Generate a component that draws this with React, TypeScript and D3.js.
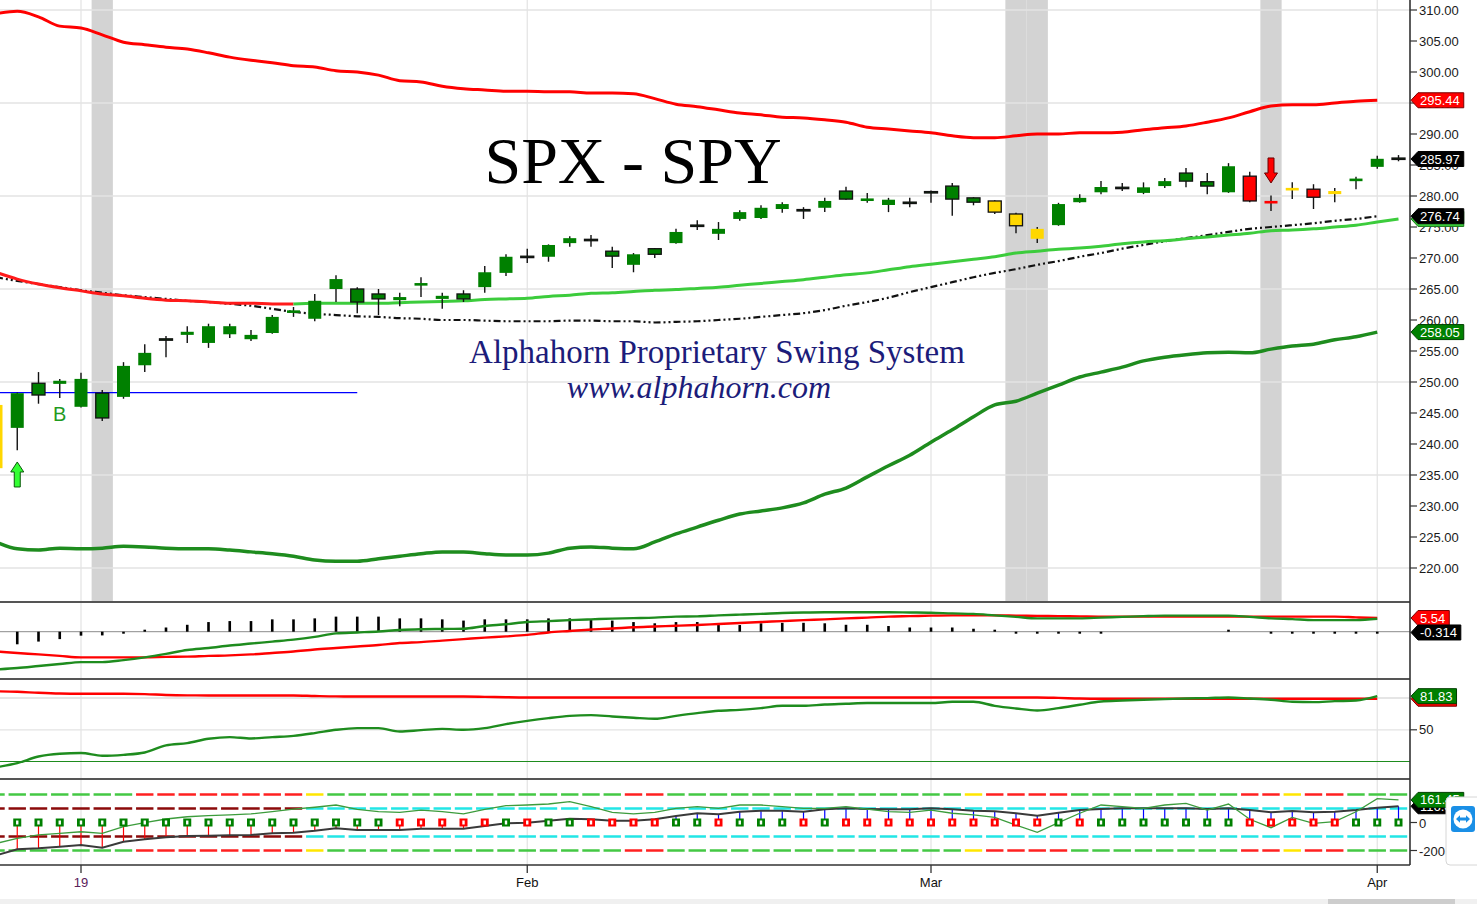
import React from 'react';
import * as d3 from 'd3';

// trading days on the chart (Dec 26 2018 .. Apr 2 2019)
const dates = [
  '2018-12-26', '2018-12-27', '2018-12-28', '2018-12-31',
  '2019-01-02', '2019-01-03', '2019-01-04', '2019-01-07', '2019-01-08', '2019-01-09', '2019-01-10',
  '2019-01-11', '2019-01-14', '2019-01-15', '2019-01-16', '2019-01-17', '2019-01-18', '2019-01-22',
  '2019-01-23', '2019-01-24', '2019-01-25', '2019-01-28', '2019-01-29', '2019-01-30', '2019-01-31',
  '2019-02-01', '2019-02-04', '2019-02-05', '2019-02-06', '2019-02-07', '2019-02-08', '2019-02-11',
  '2019-02-12', '2019-02-13', '2019-02-14', '2019-02-15', '2019-02-19', '2019-02-20', '2019-02-21',
  '2019-02-22', '2019-02-25', '2019-02-26', '2019-02-27', '2019-02-28',
  '2019-03-01', '2019-03-04', '2019-03-05', '2019-03-06', '2019-03-07', '2019-03-08', '2019-03-11',
  '2019-03-12', '2019-03-13', '2019-03-14', '2019-03-15', '2019-03-18', '2019-03-19', '2019-03-20',
  '2019-03-21', '2019-03-22', '2019-03-25', '2019-03-26', '2019-03-27', '2019-03-28', '2019-03-29',
  '2019-04-01', '2019-04-02',
];

const opens = [
  236.1, 242.6, 249.8, 249.7,
  246.0, 248.2, 247.6, 252.7, 256.9, 257.6, 256.3, 257.7, 256.9, 257.9, 261.2, 260.2, 265.0, 265.0, 264.2, 263.2, 265.7, 263.4, 264.2, 265.3, 267.6,
  270.25, 270.2, 272.4, 272.95, 271.1, 268.9, 271.5, 272.4, 275.25, 273.9, 276.3, 276.45, 277.9, 277.75, 278.1, 280.8, 279.35, 278.55, 278.95,
  280.65, 281.6, 279.7, 279.2, 277.1, 273.1, 275.3, 279.0, 280.6, 281.35, 280.5, 281.6, 283.7, 282.3, 280.6, 283.2, 278.95, 281.05, 281.1, 280.3, 282.55,
  284.7, 286.05,
];
const highs = [
  246.4, 248.3, 251.6, 250.5,
  251.5, 248.7, 253.2, 256.1, 257.4, 259.0, 259.4, 259.4, 258.4, 260.8, 262.1, 264.2, 267.2, 265.3, 265.0, 264.4, 266.9, 264.4, 264.8, 268.7, 270.6,
  271.5, 272.2, 273.5, 273.7, 271.8, 270.8, 271.6, 274.7, 276.1, 275.8, 277.7, 278.5, 279.0, 278.2, 279.7, 281.5, 280.5, 279.7, 279.7,
  280.9, 282.1, 279.8, 279.3, 277.3, 275.0, 278.9, 280.3, 282.4, 282.1, 282.2, 282.9, 284.5, 283.7, 285.3, 283.9, 280.1, 282.2, 281.9, 281.3, 283.1,
  286.5, 286.6,
];
const lows = [
  235.8, 239.0, 246.5, 247.4,
  245.9, 243.7, 247.3, 251.6, 254.0, 256.3, 255.5, 257.1, 256.6, 257.8, 260.5, 259.8, 262.9, 261.1, 260.8, 262.2, 263.7, 261.8, 262.9, 264.4, 267.1,
  269.2, 269.4, 271.8, 271.8, 268.4, 267.7, 270.0, 272.3, 274.5, 272.9, 276.0, 276.3, 277.3, 276.3, 277.4, 279.4, 278.9, 277.4, 278.2,
  278.9, 276.8, 278.5, 277.1, 274.0, 272.4, 275.2, 278.9, 280.3, 280.8, 280.3, 281.3, 281.4, 280.3, 280.5, 279.0, 277.6, 279.5, 277.9, 279.0, 281.1,
  284.4, 285.6,
];
const closes = [
  246.3, 248.2, 247.9, 250.2,
  250.5, 244.2, 252.6, 254.7, 256.8, 258.1, 259.0, 259.0, 257.6, 260.5, 261.5, 263.1, 266.6, 262.9, 263.4, 263.7, 265.8, 263.9, 263.4, 267.7, 270.2,
  270.1, 272.1, 273.2, 272.85, 270.3, 270.6, 270.6, 274.2, 275.15, 274.7, 277.4, 278.1, 278.7, 277.65, 279.2, 279.5, 279.45, 279.4, 278.85,
  280.55, 279.5, 279.0, 277.4, 275.2, 274.7, 278.7, 279.7, 281.45, 281.25, 281.4, 282.4, 282.4, 281.6, 284.8, 279.2, 279.05, 281.15, 279.8, 280.8, 282.65,
  286.0, 285.97,
];

// system colour of the candles (default green)
const candleColorOverrides: [string, string][] = [
  ['2018-12-26', 'y'], ['2019-03-06', 'y'], ['2019-03-07', 'y'], ['2019-03-08', 'y'],
  ['2019-03-22', 'r'], ['2019-03-25', 'r'], ['2019-03-26', 'y'], ['2019-03-27', 'r'], ['2019-03-28', 'y'],
];

// envelope bands (to Apr 1)
const upperBand = [
  309.4, 309.8, 308.9, 307.4, 307.1, 306.0, 304.8, 304.4, 304.0, 303.7, 303.1, 302.4, 301.9, 301.5, 301.0, 300.8,
  300.2, 300.0, 299.5, 298.6, 298.4, 297.7, 297.3, 297.1, 296.9, 296.9, 296.8, 296.8, 296.6, 296.6, 296.5, 295.7,
  294.8, 294.4, 293.9, 293.4, 293.1, 292.7, 292.6, 292.3, 291.9, 291.1, 290.8, 290.5, 290.2, 289.7, 289.4, 289.4,
  289.7, 290.0, 290.0, 290.2, 290.2, 290.3, 290.7, 291.0, 291.3, 291.9, 292.6, 293.6, 294.5, 294.7, 294.7, 295.0,
  295.3, 295.44,
];
const lowerBand = [
  224.2, 223.1, 222.9, 223.2, 223.1, 223.2, 223.5, 223.4, 223.2, 223.1, 223.1, 222.9, 222.6, 222.3, 221.9, 221.3,
  221.1, 221.1, 221.5, 221.9, 222.3, 222.6, 222.6, 222.3, 222.1, 222.1, 222.4, 223.2, 223.4, 223.2, 223.1, 224.2,
  225.5, 226.6, 227.7, 228.7, 229.2, 229.7, 230.5, 231.9, 232.9, 234.7, 236.5, 238.2, 240.3, 242.3, 244.4, 246.3,
  246.9, 248.2, 249.5, 250.8, 251.6, 252.4, 253.4, 254.0, 254.4, 254.7, 254.8, 254.7, 255.3, 255.8, 256.1, 256.8,
  257.3, 258.05,
];
// trend average (red before the turn, green after)
const trendMA = [
  267.7, 266.6, 265.8, 265.2, 264.7, 264.2, 263.9, 263.5, 263.2, 263.1, 262.9, 262.7, 262.7, 262.6, 262.6, 262.7,
  262.7, 262.7, 262.7, 262.8, 262.9, 263.0, 263.1, 263.3, 263.4, 263.5, 263.8, 264.0, 264.3, 264.4, 264.6, 264.8,
  264.9, 265.1, 265.3, 265.6, 265.9, 266.2, 266.5, 266.9, 267.3, 267.6, 268.1, 268.6, 269.0, 269.4, 269.8, 270.2,
  270.8, 271.1, 271.4, 271.6, 271.9, 272.3, 272.6, 272.8, 273.1, 273.4, 273.7, 274.0, 274.4, 274.5, 274.7, 275.0,
  275.3, 275.8, 276.3,
];
const maTurnDate = '2019-01-16';
// slow dash-dot average (to Apr 1)
const slowMA = [
  266.9, 266.3, 265.8, 265.3, 264.8, 264.4, 264.0, 263.7, 263.4, 263.1, 262.9, 262.6, 262.3, 261.8, 261.3, 261.0,
  260.8, 260.6, 260.5, 260.3, 260.2, 260.0, 260.0, 259.9, 259.8, 259.8, 259.8, 259.9, 259.9, 259.8, 259.8, 259.6,
  259.7, 259.8, 260.0, 260.2, 260.5, 260.8, 261.1, 261.6, 262.3, 262.9, 263.6, 264.5, 265.3, 266.1, 266.9, 267.6,
  268.2, 268.9, 269.5, 270.2, 270.8, 271.5, 272.1, 272.7, 273.2, 273.7, 274.2, 274.7, 275.0, 275.3, 275.6, 276.0,
  276.3, 276.74,
];

const supportLevel = 248.3;
const supportEnd = '2019-01-22';
const shadedDays = ['2019-01-03', '2019-03-07', '2019-03-08', '2019-03-25'];
const buySignal = { date: '2018-12-27', price: 237.1 };
const sellSignal = { date: '2019-03-25', price: 282.1 };
const letterMark = { date: '2018-12-31', price: 244.8, text: 'B' };

// MACD panel (to Apr 1)
const macdLine = [
  -15.3, -14.7, -13.9, -13.1, -12.3, -12.3, -11.5, -10.4, -9.0, -7.4, -6.6, -5.6, -4.8, -4.0, -3.2, -2.1,
  -0.7, -0.3, 0.1, 0.7, 1.0, 1.1, 1.2, 2.3, 3.0, 3.9, 4.3, 4.7, 5.0, 5.3, 5.5, 5.7,
  6.1, 6.2, 6.6, 6.9, 7.2, 7.6, 7.8, 7.9, 7.9, 7.9, 7.9, 7.8, 7.7, 7.4, 7.2, 6.6,
  6.0, 5.4, 5.4, 5.4, 5.7, 6.0, 6.3, 6.5, 6.5, 6.5, 6.5, 6.0, 5.4, 5.1, 4.7, 4.7,
  4.7, 5.23,
];
const macdSignal = [
  -8.0, -8.6, -9.2, -9.8, -10.4, -10.4, -10.4, -10.4, -10.2, -10.1, -9.8, -9.6, -9.2, -8.6, -8.0, -7.2,
  -6.6, -6.0, -5.4, -4.6, -4.2, -3.6, -3.0, -2.4, -1.9, -1.3, -0.3, 0.3, 0.9, 1.3, 1.8, 2.1,
  2.4, 2.7, 3.1, 3.5, 3.9, 4.3, 4.7, 5.0, 5.4, 5.7, 6.1, 6.3, 6.5, 6.6, 6.6, 6.6,
  6.5, 6.4, 6.3, 6.2, 6.1, 6.1, 6.1, 6.1, 6.1, 6.1, 6.1, 6.1, 6.1, 6.1, 6.1, 6.1,
  5.8, 5.54,
];
const macdHist = [
  -5.5, -5.1, -4.0, -3.0, -1.6, -1.5, -0.7, 0.4, 1.7, 2.8, 3.9, 4.3, 4.3, 5.0, 5.0, 5.4,
  6.1, 6.1, 6.1, 5.4, 5.4, 5.0, 4.5, 5.0, 5.0, 5.0, 5.4, 5.4, 5.0, 4.5, 3.9, 3.4,
  3.9, 3.9, 2.7, 2.7, 3.4, 3.6, 3.6, 3.4, 2.8, 2.8, 2.3, 1.7, 1.7, 1.7, 1.2, 0.7,
  -0.1, -0.5, -0.5, -0.3, -0.3, 0, 0, 0, 0, 0, 0.3, 0, -0.2, -0.2, -0.4, -0.4,
  -0.4, -0.314,
];

// oscillator panel (to Apr 1)
const oscFast = [
  14.5, 18.5, 24.7, 27.3, 28.0, 25.4, 26.3, 28.5, 35.2, 37.4, 41.5, 43.1, 41.8, 43.1, 44.3, 46.9,
  50.0, 51.6, 51.6, 48.4, 49.7, 50.9, 50.0, 51.6, 55.4, 58.5, 61.1, 63.2, 63.9, 62.6, 61.4, 60.4,
  63.2, 65.8, 68.0, 68.9, 70.5, 72.7, 72.7, 73.9, 74.6, 75.3, 75.3, 75.3, 75.3, 76.5, 76.5, 72.7,
  70.2, 68.3, 70.5, 73.7, 76.8, 77.7, 78.4, 79.0, 79.6, 80.0, 80.6, 79.6, 78.4, 76.5, 76.2, 77.1,
  77.7, 81.83,
];
const oscSlow = [
  86.4, 86.0, 85.0, 84.3, 84.1, 84.1, 84.1, 83.8, 83.0, 82.6, 82.5, 82.5, 82.5, 82.5, 82.5, 82.0,
  81.6, 81.5, 81.5, 81.5, 81.5, 81.5, 81.5, 81.2, 80.8, 80.6, 80.6, 80.6, 80.6, 80.6, 80.6, 80.6,
  80.6, 80.6, 80.6, 80.6, 80.6, 80.6, 80.6, 80.6, 80.6, 80.6, 80.6, 80.6, 80.6, 80.6, 80.6, 80.6,
  80.6, 80.6, 80.2, 79.6, 79.4, 79.4, 79.4, 79.4, 79.4, 79.4, 79.4, 79.4, 79.4, 79.4, 79.4, 79.4,
  79.4, 79.4,
];

// CCI panel (to Apr 2)
const cciFast = [
  -150, -113, -89, -77, -66, -77, -30, -1, 25, 41, 49, 54, 61, 77, 96, 109,
  125, 94, 77, 73, 89, 77, 61, 94, 120, 125, 132, 149, 113, 73, 61, 73,
  101, 113, 101, 125, 125, 113, 101, 101, 113, 96, 77, 73, 89, 66, 54, 37,
  -18, -70, -1, 66, 125, 113, 101, 125, 137, 89, 132, 23, -37, 37, -6, 6,
  77, 170, 161.45,
];
const cciSlow = [
  -235, -191, -184, -173, -161, -180, -137, -120, -106, -96, -94, -91, -89, -77, -73, -59,
  -41, -54, -54, -54, -44, -44, -44, -25, -6, -1, 13, 27, 23, 13, 13, 23,
  46, 66, 59, 77, 84, 84, 77, 94, 101, 96, 94, 94, 101, 94, 84, 80,
  66, 49, 70, 89, 96, 101, 101, 101, 101, 96, 101, 89, 73, 82, 73, 77,
  89, 106, 116,
];
const cciRedMarkers = [
  '2019-01-24', '2019-01-25', '2019-01-28', '2019-01-29', '2019-01-30', '2019-02-01',
  '2019-02-06', '2019-02-07', '2019-02-08', '2019-02-11', '2019-02-14', '2019-02-21',
  '2019-02-25', '2019-02-26', '2019-02-27', '2019-02-28', '2019-03-01', '2019-03-04', '2019-03-05',
  '2019-03-06', '2019-03-07', '2019-03-08', '2019-03-12',
  '2019-03-22', '2019-03-25', '2019-03-26', '2019-03-27', '2019-03-28',
];
const outerRedDays = [
  '2019-01-07', '2019-01-08', '2019-01-09', '2019-01-10', '2019-01-11', '2019-01-14', '2019-01-15', '2019-01-16',
  '2019-02-08', '2019-02-11', '2019-03-06', '2019-03-07', '2019-03-08', '2019-03-11',
  '2019-03-22', '2019-03-25', '2019-03-27', '2019-03-28',
];
const outerYellowDays = ['2019-01-17', '2019-03-05', '2019-03-26'];
const innerSwitchDate = '2019-01-17';

const priceTicks = [220, 225, 230, 235, 240, 245, 250, 255, 260, 265, 270, 275, 280, 285, 290, 295, 300, 305, 310];
const priceGrid = [220, 235, 250, 265, 280, 295, 310];
const oscTicks = [50];
const cciTicks = [0, -200];
const monthTicks = ['2019-01-02', '2019-02-01', '2019-03-01', '2019-04-01'];
const monthLabels = ['19', 'Feb', 'Mar', 'Apr'];
const monthColors = ['#5a205a', '#111', '#111', '#111'];

const FONT = '"Liberation Sans", Arial, sans-serif';
const SERIF = '"Liberation Serif", "Times New Roman", serif';
const W = 1477;
const H = 904;
const RIGHT = 1410;
const CANDLE = { g: '#008000', y: '#ffd700', r: '#ff0000' } as Record<string, string>;

function Tag({ y, text, fill, stroke, color = '#fff' }: { y: number; text: string; fill: string; stroke: string; color?: string }) {
  const w = text.split('').reduce((s, ch) => s + (ch === '.' ? 3.6 : ch === '-' ? 4.3 : 7.23), 0) + 6;
  const x0 = 1411;
  const h = 7.5;
  return (
    <g>
      <path d={`M${x0},${y} L${x0 + 7},${y - h} H${x0 + 7 + w} V${y + h} H${x0 + 7} Z`} fill={fill} stroke={stroke} strokeWidth={1} />
      <text x={x0 + 9} y={y + 4.6} fill={color} fontSize={13} fontFamily={FONT}>{text}</text>
    </g>
  );
}

export default function App() {
  const x = d3.scalePoint<string>().domain(dates).range([-4, 1398.5]);
  const step = x.step();
  const X = (d: string) => x(d) as number;

  const yMain = d3.scaleLinear().domain([220, 310]).range([568, 10]);
  const yMacd = d3.scaleLinear().domain([0, 10]).range([631.7, 607]);
  const yOsc = d3.scaleLinear().domain([20, 80]).range([761.5, 698.1]);
  const yCci = d3.scaleLinear().domain([-200, 200]).range([850.5, 794.5]);

  const path = (vals: number[], y: d3.ScaleLinear<number, number>, offset = 0, curve: d3.CurveFactory = d3.curveMonotoneX) =>
    d3.line<number>().x((_, i) => X(dates[i + offset])).y(v => y(v)).curve(curve)(vals) ?? '';

  const maSplit = dates.indexOf(maTurnDate);
  const innerSplit = dates.indexOf(innerSwitchDate);
  const colorOf = new Map(candleColorOverrides);

  const arrowUp = (cx: number, ty: number) =>
    `M${cx},${ty} L${cx + 6.5},${ty + 10} H${cx + 3} V${ty + 25} H${cx - 3} V${ty + 10} H${cx - 6.5} Z`;
  const arrowDown = (cx: number, ty: number) =>
    `M${cx},${ty} L${cx + 6.5},${ty - 10} H${cx + 3} V${ty - 25} H${cx - 3} V${ty - 10} H${cx - 6.5} Z`;

  const outerColor = (d: string) =>
    outerRedDays.includes(d) ? '#ff2020' : outerYellowDays.includes(d) ? '#ffe600' : '#44c844';

  const lastIdx = upperBand.length - 1;

  return (
    <div style={{ position: 'absolute', left: 0, top: 0, width: W, height: H, background: '#fff' }}>
      <svg width={W} height={H} style={{ display: 'block' }}>
        <defs>
          <clipPath id="cMain"><rect x={0} y={0} width={RIGHT} height={602} /></clipPath>
          <clipPath id="cMacd"><rect x={0} y={603} width={RIGHT} height={75} /></clipPath>
          <clipPath id="cOsc"><rect x={0} y={680} width={RIGHT} height={98} /></clipPath>
          <clipPath id="cCci"><rect x={0} y={780} width={RIGHT} height={85} /></clipPath>
        </defs>
        <rect x={0} y={0} width={W} height={H} fill="#fff" />

        {/* shaded days */}
        {shadedDays.map(d => (
          <rect key={d} x={X(d) - step / 2} y={0} width={step} height={602} fill="#d3d3d3" />
        ))}

        {/* grid */}
        {priceGrid.map(v => (
          <line key={v} x1={0} x2={RIGHT} y1={yMain(v)} y2={yMain(v)} stroke="#e3e3e3" strokeWidth={1.5} />
        ))}
        {monthTicks.map(d => (
          <line key={d} x1={X(d)} x2={X(d)} y1={0} y2={865} stroke="#e3e3e3" strokeWidth={1.2} />
        ))}
        <line x1={0} x2={RIGHT} y1={yOsc(80)} y2={yOsc(80)} stroke="#dcdcdc" strokeWidth={1.5} />
        <line x1={0} x2={RIGHT} y1={yOsc(50)} y2={yOsc(50)} stroke="#e3e3e3" strokeWidth={1.2} />

        {/* main panel */}
        <g clipPath="url(#cMain)">
          <path d={path(upperBand, yMain)} fill="none" stroke="#ff0000" strokeWidth={3} />
          <path d={path(lowerBand, yMain)} fill="none" stroke="#1e8c1e" strokeWidth={3.5} />
          <path d={path(slowMA, yMain)} fill="none" stroke="#111" strokeWidth={2.2} strokeDasharray="7 3 2 3 2 3" />
          <path d={path(trendMA.slice(0, maSplit + 1), yMain)} fill="none" stroke="#ff1a1a" strokeWidth={3} />
          <path d={path(trendMA.slice(maSplit), yMain, maSplit)} fill="none" stroke="#3ccc3c" strokeWidth={3} />
          <line x1={0} x2={X(supportEnd)} y1={yMain(supportLevel)} y2={yMain(supportLevel)} stroke="#0000ff" strokeWidth={1.3} />

          {dates.map((d, i) => {
            const cx = X(d);
            const o = opens[i];
            const c = closes[i];
            const bear = c < o;
            const top = yMain(Math.max(o, c));
            const bot = yMain(Math.min(o, c));
            const minH = bear ? 1.4 : 2.6;
            const h = Math.max(bot - top, minH);
            const fill = CANDLE[colorOf.get(d) ?? 'g'];
            return (
              <g key={d}>
                <line x1={cx} x2={cx} y1={yMain(highs[i])} y2={yMain(lows[i])} stroke="#111" strokeWidth={1.4} />
                <rect x={cx - 6.5} y={(top + bot) / 2 - h / 2} width={13} height={h} fill={fill}
                  stroke={bear ? '#111' : 'none'} strokeWidth={1.3} />
              </g>
            );
          })}

          <path d={arrowUp(X(buySignal.date), yMain(buySignal.price))} fill="#33ff33" stroke="#0a5a0a" strokeWidth={1} />
          <path d={arrowDown(X(sellSignal.date), yMain(sellSignal.price))} fill="#ff0000" stroke="#6a0000" strokeWidth={1} />
          <text x={X(letterMark.date)} y={yMain(letterMark.price) + 7} textAnchor="middle" fontSize={20}
            fontFamily={FONT} fill="#1f9a1f">{letterMark.text}</text>
        </g>

        <text x={633} y={183} textAnchor="middle" fontSize={66} fontFamily={SERIF} fill="#000">SPX - SPY</text>
        <text x={717} y={363} textAnchor="middle" fontSize={33} fontFamily={SERIF} fill="#1c1c7a">Alphahorn Proprietary Swing System</text>
        <text x={699} y={398} textAnchor="middle" fontSize={32} fontStyle="italic" fontFamily={SERIF} fill="#1c1c7a">www.alphahorn.com</text>

        {/* MACD panel */}
        <g clipPath="url(#cMacd)">
          <line x1={0} x2={RIGHT} y1={yMacd(0)} y2={yMacd(0)} stroke="#8c8c8c" strokeWidth={1} />
          {macdHist.map((v, i) => {
            if (v === 0) return null;
            const y0 = yMacd(0);
            const y1 = yMacd(v);
            const len = Math.max(Math.abs(y1 - y0), 2);
            return (
              <rect key={i} x={X(dates[i]) - 1.3} y={v > 0 ? y0 - len : y0} width={2.6} height={len} fill="#000" />
            );
          })}
          <path d={path(macdSignal, yMacd)} fill="none" stroke="#ff0000" strokeWidth={2.4} />
          <path d={path(macdLine, yMacd)} fill="none" stroke="#1e8c1e" strokeWidth={2.4} />
        </g>

        {/* oscillator panel */}
        <g clipPath="url(#cOsc)">
          <line x1={0} x2={RIGHT} y1={yOsc(20)} y2={yOsc(20)} stroke="#1e8c1e" strokeWidth={1.2} />
          <path d={path(oscSlow, yOsc)} fill="none" stroke="#ff0000" strokeWidth={2.4} />
          <path d={path(oscFast, yOsc)} fill="none" stroke="#1e8c1e" strokeWidth={2.4} />
        </g>

        {/* CCI panel */}
        <g clipPath="url(#cCci)">
          {dates.map((d, i) => {
            const cx = X(d);
            const inner = i < innerSplit ? '#8b0a0a' : '#22e6e6';
            const oc = outerColor(d);
            return (
              <g key={d}>
                <line x1={cx - 8.7} x2={cx + 8.7} y1={yCci(200)} y2={yCci(200)} stroke={oc} strokeWidth={2.5} />
                <line x1={cx - 8.7} x2={cx + 8.7} y1={yCci(-200)} y2={yCci(-200)} stroke={oc} strokeWidth={2.5} />
                <line x1={cx - 8.7} x2={cx + 8.7} y1={yCci(100)} y2={yCci(100)} stroke={inner} strokeWidth={2.5} />
                <line x1={cx - 8.7} x2={cx + 8.7} y1={yCci(-100)} y2={yCci(-100)} stroke={inner} strokeWidth={2.5} />
              </g>
            );
          })}
          {dates.map((d, i) => (
            <line key={d} x1={X(d)} x2={X(d)} y1={yCci(0)} y2={yCci(cciSlow[i])}
              stroke={cciSlow[i] > 0 ? '#0000ff' : '#ff0000'} strokeWidth={1.2} />
          ))}
          <path d={path(cciSlow, yCci, 0, d3.curveLinear)} fill="none" stroke="#3a3a3a" strokeWidth={2} />
          <path d={path(cciFast, yCci, 0, d3.curveLinear)} fill="none" stroke="#3c9c3c" strokeWidth={1.3} />
          {dates.map(d => {
            const cx = X(d);
            const cy = yCci(0);
            const red = cciRedMarkers.includes(d);
            return (
              <g key={d}>
                <rect x={cx - 4} y={cy - 4} width={8} height={8} fill={red ? '#ff0000' : '#008000'} />
                <rect x={cx - 1.2} y={cy - 2} width={2.4} height={4} fill="#fff" />
              </g>
            );
          })}
        </g>

        {/* panel frames */}
        <line x1={0} x2={RIGHT} y1={602} y2={602} stroke="#555" strokeWidth={2} />
        <line x1={0} x2={RIGHT} y1={679} y2={679} stroke="#555" strokeWidth={2} />
        <line x1={0} x2={RIGHT} y1={779} y2={779} stroke="#555" strokeWidth={2} />
        <line x1={0} x2={RIGHT} y1={865} y2={865} stroke="#333" strokeWidth={1.6} />
        <line x1={RIGHT} x2={RIGHT} y1={0} y2={865} stroke="#333" strokeWidth={1.6} />

        {/* right axis */}
        {priceTicks.map(v => (
          <g key={v}>
            <line x1={RIGHT} x2={RIGHT + 7} y1={yMain(v)} y2={yMain(v)} stroke="#333" strokeWidth={1.2} />
            <text x={1419} y={yMain(v) + 4.6} fontSize={13} fontFamily={FONT} fill="#1a1a1a">{v.toFixed(2)}</text>
          </g>
        ))}
        {oscTicks.map(v => (
          <g key={v}>
            <line x1={RIGHT} x2={RIGHT + 7} y1={yOsc(v)} y2={yOsc(v)} stroke="#333" strokeWidth={1.2} />
            <text x={1419} y={yOsc(v) + 4.6} fontSize={13} fontFamily={FONT} fill="#1a1a1a">{v}</text>
          </g>
        ))}
        {cciTicks.map(v => (
          <g key={v}>
            <line x1={RIGHT} x2={RIGHT + 7} y1={yCci(v)} y2={yCci(v)} stroke="#333" strokeWidth={1.2} />
            <text x={1419} y={yCci(v) + 5.5} fontSize={13} fontFamily={FONT} fill="#1a1a1a">{v}</text>
          </g>
        ))}

        {/* last value tags */}
        <Tag y={yMain(upperBand[lastIdx])} text={upperBand[lastIdx].toFixed(2)} fill="#ff0000" stroke="#7a0000" />
        <Tag y={yMain(closes[closes.length - 1])} text={closes[closes.length - 1].toFixed(2)} fill="#000" stroke="#000" />
        <Tag y={yMain(trendMA[trendMA.length - 1])} text={trendMA[trendMA.length - 1].toFixed(2)} fill="#3ccc3c" stroke="#1e7a1e" />
        <Tag y={yMain(slowMA[lastIdx])} text={slowMA[lastIdx].toFixed(2)} fill="#000" stroke="#000" />
        <Tag y={yMain(lowerBand[lastIdx])} text={lowerBand[lastIdx].toFixed(2)} fill="#008000" stroke="#004000" />
        <Tag y={yMacd(macdSignal[lastIdx])} text={macdSignal[lastIdx].toFixed(2)} fill="#ff0000" stroke="#7a0000" />
        <Tag y={yMacd(macdHist[lastIdx])} text={macdHist[lastIdx].toFixed(3)} fill="#000" stroke="#000" />
        <Tag y={yOsc(oscSlow[lastIdx])} text={oscSlow[lastIdx].toFixed(2)} fill="#ff0000" stroke="#7a0000" />
        <Tag y={yOsc(oscFast[lastIdx])} text={oscFast[lastIdx].toFixed(2)} fill="#008000" stroke="#004000" />
        <Tag y={yCci(cciSlow[cciSlow.length - 1])} text={cciSlow[cciSlow.length - 1].toFixed(2)} fill="#000" stroke="#000" />
        <Tag y={yCci(cciFast[cciFast.length - 1])} text={cciFast[cciFast.length - 1].toFixed(2)} fill="#008000" stroke="#004000" />

        {/* x axis */}
        {monthTicks.map((d, k) => (
          <g key={d}>
            <line x1={X(d)} x2={X(d)} y1={865} y2={873} stroke="#333" strokeWidth={1.3} />
            <text x={X(d)} y={887} textAnchor="middle" fontSize={13} fontFamily={FONT} fill={monthColors[k]}>{monthLabels[k]}</text>
          </g>
        ))}

        {/* bottom scroll strip and overlay icon */}
        <rect x={0} y={899} width={W} height={5} fill="#f0f0f0" />
        <rect x={1328} y={899} width={127} height={5} fill="#cdcdcd" />
        <g>
          <rect x={1446} y={797} width={40} height={68} rx={4} fill="#fff" stroke="#d6d6d6" />
          <rect x={1451} y={806} width={24} height={26} rx={3} fill="#1a8fe6" />
          <circle cx={1463} cy={819} r={9.5} fill="#fff" />
          <path d="M1456,819 l4,-3.8 v2.4 h6 v-2.4 l4,3.8 l-4,3.8 v-2.4 h-6 v2.4 z" fill="#1a8fe6" />
        </g>
      </svg>
    </div>
  );
}
